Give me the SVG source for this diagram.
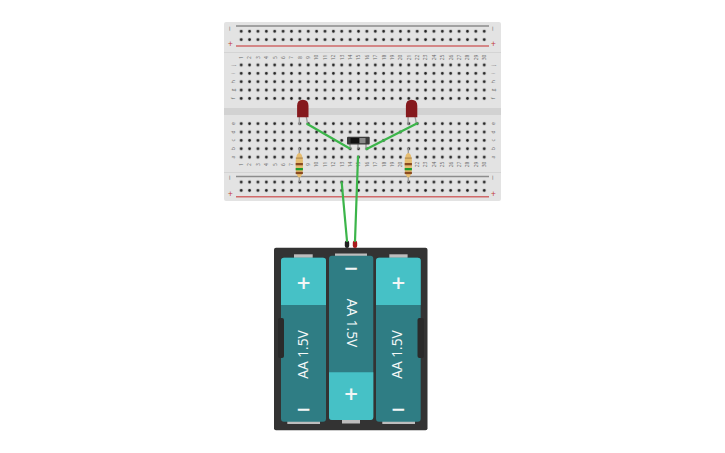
<svg xmlns="http://www.w3.org/2000/svg" width="725" height="453" viewBox="0 0 725 453">
<style>
text{font-family:"Open Sans","Noto Sans","Liberation Sans",sans-serif}
.n{font-size:5px;fill:#666;text-anchor:middle}
.m{font-size:9px;fill:#888;text-anchor:middle}
.p{font-size:9px;fill:#c23a3a;text-anchor:middle}
.w{fill:none;stroke:#3cb54a;stroke-width:2.2;stroke-linecap:round}
.lead{stroke:#999;stroke-width:1.3;fill:none}
.led{fill:#85191d}
.tab{fill:#bdbdbd}
.dk{fill:#2f7d84}
.lt{fill:#46c1c6}
.bt{fill:#f4f8f8;font-size:13.800px;text-anchor:middle}
.big{fill:#f2f6f6;font-size:24px;font-weight:600;text-anchor:middle}
</style>
<defs>
<pattern id="holes" x="0" y="0" width="8.38" height="8.36" patternUnits="userSpaceOnUse">
<circle cx="4.19" cy="4.18" r="2" fill="#c8c8c8"/><circle cx="4.19" cy="4.18" r="1.3" fill="#1e1e1e"/>
</pattern>
<g id="res">
<path class="lead" d="M0-5V29"/>
<path d="M-2.5 2Q0-2 2.500 2L3.600 7V17L2.500 22Q0 27-2.500 22L-3.600 17V7Z" fill="#e6bd70"/>
<rect x="-3.500" y="4.500" width="7" height="1.200" fill="#b08a50"/>
<rect x="-3.600" y="10" width="7.200" height="2.300" fill="#8a4a20"/>
<rect x="-3.600" y="15" width="7.200" height="2.300" fill="#1f9a2c"/>
<rect x="-3.600" y="18.800" width="7.200" height="2.300" fill="#8a4a20"/>
</g>
<g id="ledshape">
<path class="lead" d="M-3.500 17V25M3.500 17L5 25"/>
<path class="led" d="M-5.700 17.500V6Q-5.700 0 0 0Q5.700 0 5.700 6V14L5.700 17.500Z"/>
</g>
</defs>
<rect width="725" height="453" fill="#fff"/>
<g id="breadboard">
<rect x="224" y="22" width="277" height="179" rx="2" fill="#e3e3e3"/>
<rect x="224" y="52" width="277" height="1" fill="#d4d4d4"/>
<rect x="224" y="172" width="277" height="1" fill="#d4d4d4"/>
<rect x="224" y="108" width="277" height="7" fill="#d2d2d2"/>
<rect transform="translate(237 27.120)" width="251.400" height="16.720" fill="url(#holes)"/>
<rect transform="translate(237 60.820)" width="251.400" height="41.800" fill="url(#holes)"/>
<rect transform="translate(237 119.500)" width="251.400" height="41.800" fill="url(#holes)"/>
<rect transform="translate(237 177.900)" width="251.400" height="16.720" fill="url(#holes)"/>
<path d="M236 26H489M236 176.500H489" stroke="#8c8c8c" stroke-width="1.400"/>
<path d="M236 46H489M236 196.700H489" stroke="#d06a6a" stroke-width="1.400"/>
<g id="rail-marks">
<text class="m" transform="translate(233 29) rotate(-90)">−</text>
<text class="p" x="230.300" y="46.800">+</text>
<text class="m" transform="translate(495.700 29) rotate(-90)">−</text>
<text class="p" x="493.300" y="46.800">+</text>
<text class="m" transform="translate(233 178) rotate(-90)">−</text>
<text class="p" x="230.300" y="196.500">+</text>
<text class="m" transform="translate(495.700 178) rotate(-90)">−</text>
<text class="p" x="493.300" y="196.500">+</text>
</g>
<g id="row-letters">
<text class="n" transform="translate(234.500 65) rotate(-90)">j</text>
<text class="n" transform="translate(234.500 73.400) rotate(-90)">i</text>
<text class="n" transform="translate(234.500 81.700) rotate(-90)">h</text>
<text class="n" transform="translate(234.500 90) rotate(-90)">g</text>
<text class="n" transform="translate(234.500 98.400) rotate(-90)">f</text>
<text class="n" transform="translate(234.500 123.700) rotate(-90)">e</text>
<text class="n" transform="translate(234.500 132) rotate(-90)">d</text>
<text class="n" transform="translate(234.500 140.300) rotate(-90)">c</text>
<text class="n" transform="translate(234.500 148.700) rotate(-90)">b</text>
<text class="n" transform="translate(234.500 157) rotate(-90)">a</text>
<text class="n" transform="translate(494.500 65) rotate(-90)">j</text>
<text class="n" transform="translate(494.500 73.400) rotate(-90)">i</text>
<text class="n" transform="translate(494.500 81.700) rotate(-90)">h</text>
<text class="n" transform="translate(494.500 90) rotate(-90)">g</text>
<text class="n" transform="translate(494.500 98.400) rotate(-90)">f</text>
<text class="n" transform="translate(494.500 123.700) rotate(-90)">e</text>
<text class="n" transform="translate(494.500 132) rotate(-90)">d</text>
<text class="n" transform="translate(494.500 140.300) rotate(-90)">c</text>
<text class="n" transform="translate(494.500 148.700) rotate(-90)">b</text>
<text class="n" transform="translate(494.500 157) rotate(-90)">a</text>
</g>
<g id="col-top">
<text class="n" transform="translate(243 57.500) rotate(-90)">1</text>
<text class="n" transform="translate(251.400 57.500) rotate(-90)">2</text>
<text class="n" transform="translate(259.800 57.500) rotate(-90)">3</text>
<text class="n" transform="translate(268.100 57.500) rotate(-90)">4</text>
<text class="n" transform="translate(276.500 57.500) rotate(-90)">5</text>
<text class="n" transform="translate(284.900 57.500) rotate(-90)">6</text>
<text class="n" transform="translate(293.300 57.500) rotate(-90)">7</text>
<text class="n" transform="translate(301.700 57.500) rotate(-90)">8</text>
<text class="n" transform="translate(310 57.500) rotate(-90)">9</text>
<text class="n" transform="translate(318.400 57.500) rotate(-90)">10</text>
<text class="n" transform="translate(326.800 57.500) rotate(-90)">11</text>
<text class="n" transform="translate(335.200 57.500) rotate(-90)">12</text>
<text class="n" transform="translate(343.600 57.500) rotate(-90)">13</text>
<text class="n" transform="translate(351.900 57.500) rotate(-90)">14</text>
<text class="n" transform="translate(360.300 57.500) rotate(-90)">15</text>
<text class="n" transform="translate(368.700 57.500) rotate(-90)">16</text>
<text class="n" transform="translate(377.100 57.500) rotate(-90)">17</text>
<text class="n" transform="translate(385.500 57.500) rotate(-90)">18</text>
<text class="n" transform="translate(393.800 57.500) rotate(-90)">19</text>
<text class="n" transform="translate(402.200 57.500) rotate(-90)">20</text>
<text class="n" transform="translate(410.600 57.500) rotate(-90)">21</text>
<text class="n" transform="translate(419 57.500) rotate(-90)">22</text>
<text class="n" transform="translate(427.400 57.500) rotate(-90)">23</text>
<text class="n" transform="translate(435.700 57.500) rotate(-90)">24</text>
<text class="n" transform="translate(444.100 57.500) rotate(-90)">25</text>
<text class="n" transform="translate(452.500 57.500) rotate(-90)">26</text>
<text class="n" transform="translate(460.900 57.500) rotate(-90)">27</text>
<text class="n" transform="translate(469.300 57.500) rotate(-90)">28</text>
<text class="n" transform="translate(477.600 57.500) rotate(-90)">29</text>
<text class="n" transform="translate(486 57.500) rotate(-90)">30</text>
</g>
<g id="col-bottom">
<text class="n" transform="translate(243 164.500) rotate(-90)">1</text>
<text class="n" transform="translate(251.400 164.500) rotate(-90)">2</text>
<text class="n" transform="translate(259.800 164.500) rotate(-90)">3</text>
<text class="n" transform="translate(268.100 164.500) rotate(-90)">4</text>
<text class="n" transform="translate(276.500 164.500) rotate(-90)">5</text>
<text class="n" transform="translate(284.900 164.500) rotate(-90)">6</text>
<text class="n" transform="translate(293.300 164.500) rotate(-90)">7</text>
<text class="n" transform="translate(301.700 164.500) rotate(-90)">8</text>
<text class="n" transform="translate(310 164.500) rotate(-90)">9</text>
<text class="n" transform="translate(318.400 164.500) rotate(-90)">10</text>
<text class="n" transform="translate(326.800 164.500) rotate(-90)">11</text>
<text class="n" transform="translate(335.200 164.500) rotate(-90)">12</text>
<text class="n" transform="translate(343.600 164.500) rotate(-90)">13</text>
<text class="n" transform="translate(351.900 164.500) rotate(-90)">14</text>
<text class="n" transform="translate(360.300 164.500) rotate(-90)">15</text>
<text class="n" transform="translate(368.700 164.500) rotate(-90)">16</text>
<text class="n" transform="translate(377.100 164.500) rotate(-90)">17</text>
<text class="n" transform="translate(385.500 164.500) rotate(-90)">18</text>
<text class="n" transform="translate(393.800 164.500) rotate(-90)">19</text>
<text class="n" transform="translate(402.200 164.500) rotate(-90)">20</text>
<text class="n" transform="translate(410.600 164.500) rotate(-90)">21</text>
<text class="n" transform="translate(419 164.500) rotate(-90)">22</text>
<text class="n" transform="translate(427.400 164.500) rotate(-90)">23</text>
<text class="n" transform="translate(435.700 164.500) rotate(-90)">24</text>
<text class="n" transform="translate(444.100 164.500) rotate(-90)">25</text>
<text class="n" transform="translate(452.500 164.500) rotate(-90)">26</text>
<text class="n" transform="translate(460.900 164.500) rotate(-90)">27</text>
<text class="n" transform="translate(469.300 164.500) rotate(-90)">28</text>
<text class="n" transform="translate(477.600 164.500) rotate(-90)">29</text>
<text class="n" transform="translate(486 164.500) rotate(-90)">30</text>
</g>
</g>
<g id="resistor-1"><use href="#res" x="299.300" y="153"/></g>
<g id="resistor-2"><use href="#res" x="408.300" y="153"/></g>
<g id="led-1"><use href="#ledshape" x="302.800" y="99.800"/></g>
<g id="led-2"><use href="#ledshape" x="411.600" y="99.800"/></g>
<g id="switch">
<path class="lead" d="M350 144V149M358 144V149M366 144V149"/>
<rect x="347" y="136.700" width="22.700" height="7.800" rx="1" fill="#3a3a3a"/>
<rect x="350.500" y="138" width="9" height="5.200" fill="#111"/>
<rect x="359.500" y="138" width="6" height="5.200" fill="#8a8a8a"/>
</g>
<g id="battery">
<rect x="274" y="247.700" width="153.500" height="182.500" rx="2" fill="#333"/>
<rect x="294" y="254.300" width="18.700" height="4" class="tab"/>
<rect x="335" y="253.500" width="32" height="3" class="tab"/>
<rect x="389.300" y="254.300" width="18.300" height="4" class="tab"/>
<rect x="287.300" y="421" width="32.700" height="3" class="tab"/>
<rect x="342" y="419.500" width="18" height="4" class="tab"/>
<rect x="382.300" y="421" width="32.700" height="3" class="tab"/>
<g id="cell-1">
<rect x="281" y="257.700" width="45" height="164" rx="3" class="dk"/>
<path class="lt" d="M281 305V260.700a3 3 0 0 1 3-3H323a3 3 0 0 1 3 3V305Z"/>
<text class="big" x="303.500" y="291.500">+</text>
<text class="big" x="303.500" y="417.500">−</text>
<text class="bt" transform="translate(307.500 354.500) rotate(-90)">AA 1.5V</text>
</g>
<g id="cell-2">
<rect x="329" y="255.700" width="44.300" height="164.300" rx="3" class="dk"/>
<path class="lt" d="M329 372.300H373.300V417a3 3 0 0 1-3 3H332a3 3 0 0 1-3-3Z"/>
<text class="big" x="351" y="403">+</text>
<text class="big" x="351" y="276.500">−</text>
<text class="bt" transform="translate(346.500 323) rotate(90)">AA 1.5V</text>
</g>
<g id="cell-3">
<rect x="376" y="257.700" width="44.700" height="164" rx="3" class="dk"/>
<path class="lt" d="M376 305V260.700a3 3 0 0 1 3-3H417.700a3 3 0 0 1 3 3V305Z"/>
<text class="big" x="398.300" y="291.500">+</text>
<text class="big" x="398.300" y="417.500">−</text>
<text class="bt" transform="translate(402.300 354.500) rotate(-90)">AA 1.5V</text>
</g>
<rect x="278" y="318" width="6" height="40" rx="2" fill="#2a2a2a"/>
<rect x="417.500" y="318" width="6.500" height="40" rx="2" fill="#2a2a2a"/>
<rect x="344.800" y="240.500" width="4.400" height="7.500" rx="2.200" fill="#222"/>
<rect x="352.800" y="240.500" width="4.400" height="7.500" rx="2.200" fill="#a81c1c"/>
</g>
<g id="connectors">
<path class="w" d="M307.300 124L349.300 148.300"/>
<path class="w" d="M417.300 123.300L366.700 149"/>
<path class="w" d="M358 156.700L355 241"/>
<path class="w" d="M341.700 182.300L347 241"/>
</g>
</svg>
